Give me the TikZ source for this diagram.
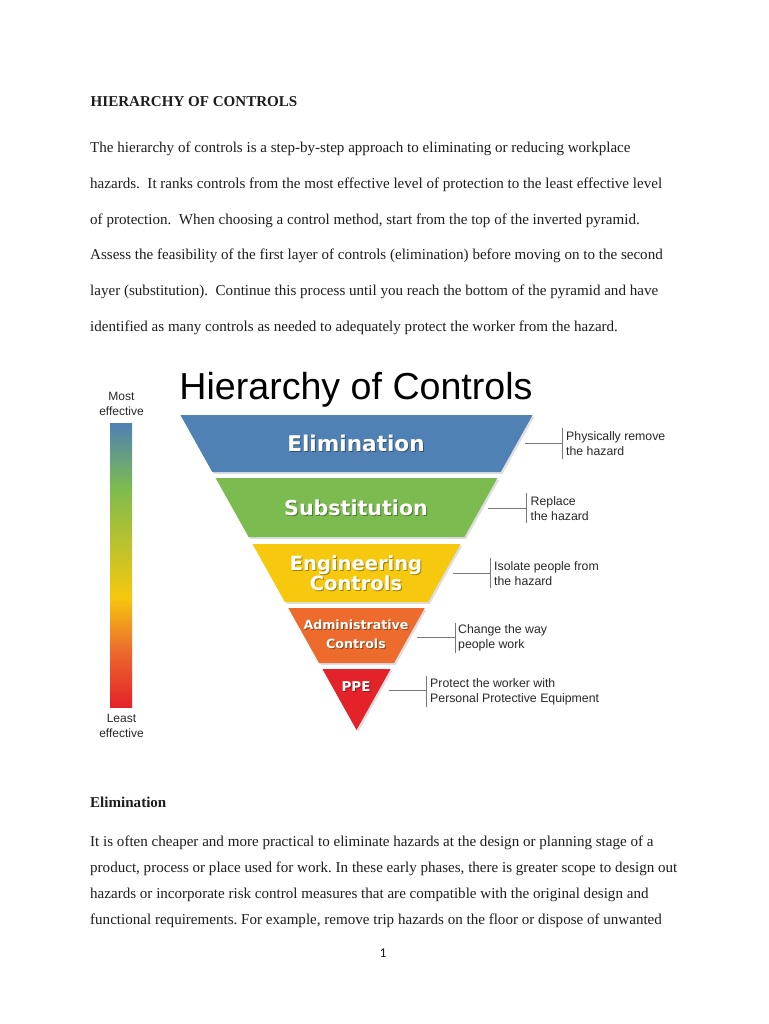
\documentclass[tikz,border=0pt]{standalone}
\usepackage{fontspec}
\setmainfont{Liberation Serif}
\newfontfamily\arialf{Liberation Sans}
\newfontfamily\dejaf{DejaVu Sans}
\newfontfamily\calf{Carlito}
\definecolor{elimc}{RGB}{79,129,181}
\definecolor{subc}{RGB}{124,187,79}
\definecolor{engc}{RGB}{246,200,14}
\definecolor{admc}{RGB}{236,107,45}
\definecolor{ppec}{RGB}{228,34,41}
\definecolor{txtc}{RGB}{30,30,30}
\definecolor{calc}{RGB}{40,40,40}
\definecolor{linec}{RGB}{120,120,120}
\newcommand\shlabel[5]{%
  \node[labtxt,text=black,text opacity=.35,font=\dejaf\bfseries\fontsize{#4}{#4}\selectfont] (#1s) at (#2+1,#3+1) {#5};
  \node[labtxt,font=\dejaf\bfseries\fontsize{#4}{#4}\selectfont] (#1) at (#2,#3) {#5};}
\frenchspacing
\begin{document}
\begin{tikzpicture}[x=1pt,y=-1pt,
  body/.style={font=\fontsize{15.06}{18}\selectfont, text=txtc, inner sep=0, anchor=base west},
  callt/.style={font=\arialf\fontsize{12.3}{15}\selectfont, text=calc, inner sep=0, anchor=base west},
  sidet/.style={font=\arialf\fontsize{12}{15}\selectfont, text=calc, inner sep=0, anchor=base},
  labtxt/.style={text=white, inner sep=0, anchor=base},
  shade/.style={fill=black, fill opacity=.13},
  conn/.style={draw=linec, line width=0.9pt}]
\useasboundingbox[fill=white] (0,0) rectangle (768,1024);

% ---------- body text (top) ----------
\node[body] (head) at (90.5,107) {\bfseries HIERARCHY OF CONTROLS};
\node[body] (p1) at (90,152.5) {The hierarchy of controls is a step-by-step approach to eliminating or reducing workplace};
\node[body] (p2) at (90,188.3) {hazards.\ \ It ranks controls from the most effective level of protection to the least effective level};
\node[body] (p3) at (90,224.1) {of protection.\ \ When choosing a control method, start from the top of the inverted pyramid.};
\node[body] (p4) at (90,259.9) {Assess the feasibility of the first layer of controls (elimination) before moving on to the second};
\node[body] (p5) at (90,295.7) {layer (substitution).\ \ Continue this process until you reach the bottom of the pyramid and have};
\node[body] (p6) at (90,331.5) {identified as many controls as needed to adequately protect the worker from the hazard.};

% ---------- diagram title ----------
\node[inner sep=0, anchor=base, font=\arialf\fontsize{37.6}{38}\selectfont, text=black] (title) at (356,399.5) {Hierarchy of Controls};

% ---------- side gradient bar ----------
\fill[top color=elimc, bottom color=subc] (110,423) rectangle (132,487.5);
\fill[top color=subc, bottom color=engc] (110,487) rectangle (132,597.5);
\fill[top color=engc, bottom color=admc] (110,597) rectangle (132,650.5);
\fill[top color=admc, bottom color=ppec] (110,650) rectangle (132,707);
\node[sidet] (most1) at (121.5,400.5) {Most};
\node[sidet] (most2) at (121.5,415.5) {effective};
\node[sidet] (least1) at (121.5,722) {Least};
\node[sidet] (least2) at (121.5,737) {effective};

% ---------- shadows of layers ----------
\begin{scope}[shift={(1.8,1.8)}]
\fill[shade] (180.4,415) -- (532.6,415) -- (500.7,472) -- (212.3,472) -- cycle;
\fill[shade] (215.6,478) -- (497.4,478) -- (464.4,537) -- (248.6,537) -- cycle;
\fill[shade] (252.5,544) -- (460.5,544) -- (428.1,602) -- (284.9,602) -- cycle;
\fill[shade] (288.3,608) -- (424.7,608) -- (394,663) -- (319,663) -- cycle;
\fill[shade] (322.4,669) -- (390.6,669) -- (356.5,730) -- cycle;
\end{scope}

% ---------- layers ----------
\fill[elimc] (180.4,415) -- (532.6,415) -- (500.7,472) -- (212.3,472) -- cycle;
\fill[subc] (215.6,478) -- (497.4,478) -- (464.4,537) -- (248.6,537) -- cycle;
\fill[engc] (252.5,544) -- (460.5,544) -- (428.1,602) -- (284.9,602) -- cycle;
\fill[admc] (288.3,608) -- (424.7,608) -- (394,663) -- (319,663) -- cycle;
\fill[ppec] (322.4,669) -- (390.6,669) -- (356.5,730) -- cycle;

\shlabel{lelim}{356}{451.5}{21.6}{Elimination}
\shlabel{lsub}{356}{515}{20.6}{Substitution}
\shlabel{leng}{356}{570}{19.5}{Engineering}
\shlabel{lengb}{356}{590.5}{19.5}{Controls}
\shlabel{ladm}{356}{629}{12.6}{Administrative}
\shlabel{ladmb}{356}{648.5}{12.6}{Controls}
\shlabel{lppe}{356}{691.4}{13.5}{PPE}

% ---------- callouts ----------
\coordinate (ca1) at (525,443);   \coordinate (cb1) at (562,443);
\coordinate (ct1) at (562,428);   \coordinate (cd1) at (562,459);
\coordinate (ca2) at (488,508);   \coordinate (cb2) at (526,508);
\coordinate (ct2) at (526,493);   \coordinate (cd2) at (526,523);
\coordinate (ca3) at (453,573);   \coordinate (cb3) at (490.5,573);
\coordinate (ct3) at (490.5,558); \coordinate (cd3) at (490.5,588);
\coordinate (ca4) at (416.5,637); \coordinate (cb4) at (455,637);
\coordinate (ct4) at (455,622.5); \coordinate (cd4) at (455,652.5);
\coordinate (ca5) at (388.5,690.5); \coordinate (cb5) at (426.5,690.5);
\coordinate (ct5) at (426.5,676); \coordinate (cd5) at (426.5,707);
\foreach \i in {1,...,5}{
  \draw[conn] (ca\i) -- (cb\i);
  \draw[conn] (ct\i) -- (cd\i);
}
\node[callt] (t1a) at (566,440) {Physically remove};
\node[callt] (t1b) at (566,455) {the hazard};
\node[callt] (t2a) at (530.5,505) {Replace};
\node[callt] (t2b) at (530.5,520) {the hazard};
\node[callt] (t3a) at (494,570) {Isolate people from};
\node[callt] (t3b) at (494,585) {the hazard};
\node[callt] (t4a) at (458,633) {Change the way};
\node[callt] (t4b) at (458,648) {people work};
\node[callt] (t5a) at (430,687) {Protect the worker with};
\node[callt] (t5b) at (430,702) {Personal Protective Equipment};

% ---------- body text (bottom) ----------
\node[body] (h2) at (90,807) {\bfseries Elimination};
\node[body] (q1) at (90,846) {It is often cheaper and more practical to eliminate hazards at the design or planning stage of a};
\node[body] (q2) at (90,872) {product, process or place used for work. In these early phases, there is greater scope to design out};
\node[body] (q3) at (90,898) {hazards or incorporate risk control measures that are compatible with the original design and};
\node[body] (q4) at (90,924) {functional requirements. For example, remove trip hazards on the floor or dispose of unwanted};

\node[inner sep=0, anchor=base, font=\calf\fontsize{13.5}{15}\selectfont, text=txtc] (pg) at (383,957) {1};
\end{tikzpicture}
\end{document}
